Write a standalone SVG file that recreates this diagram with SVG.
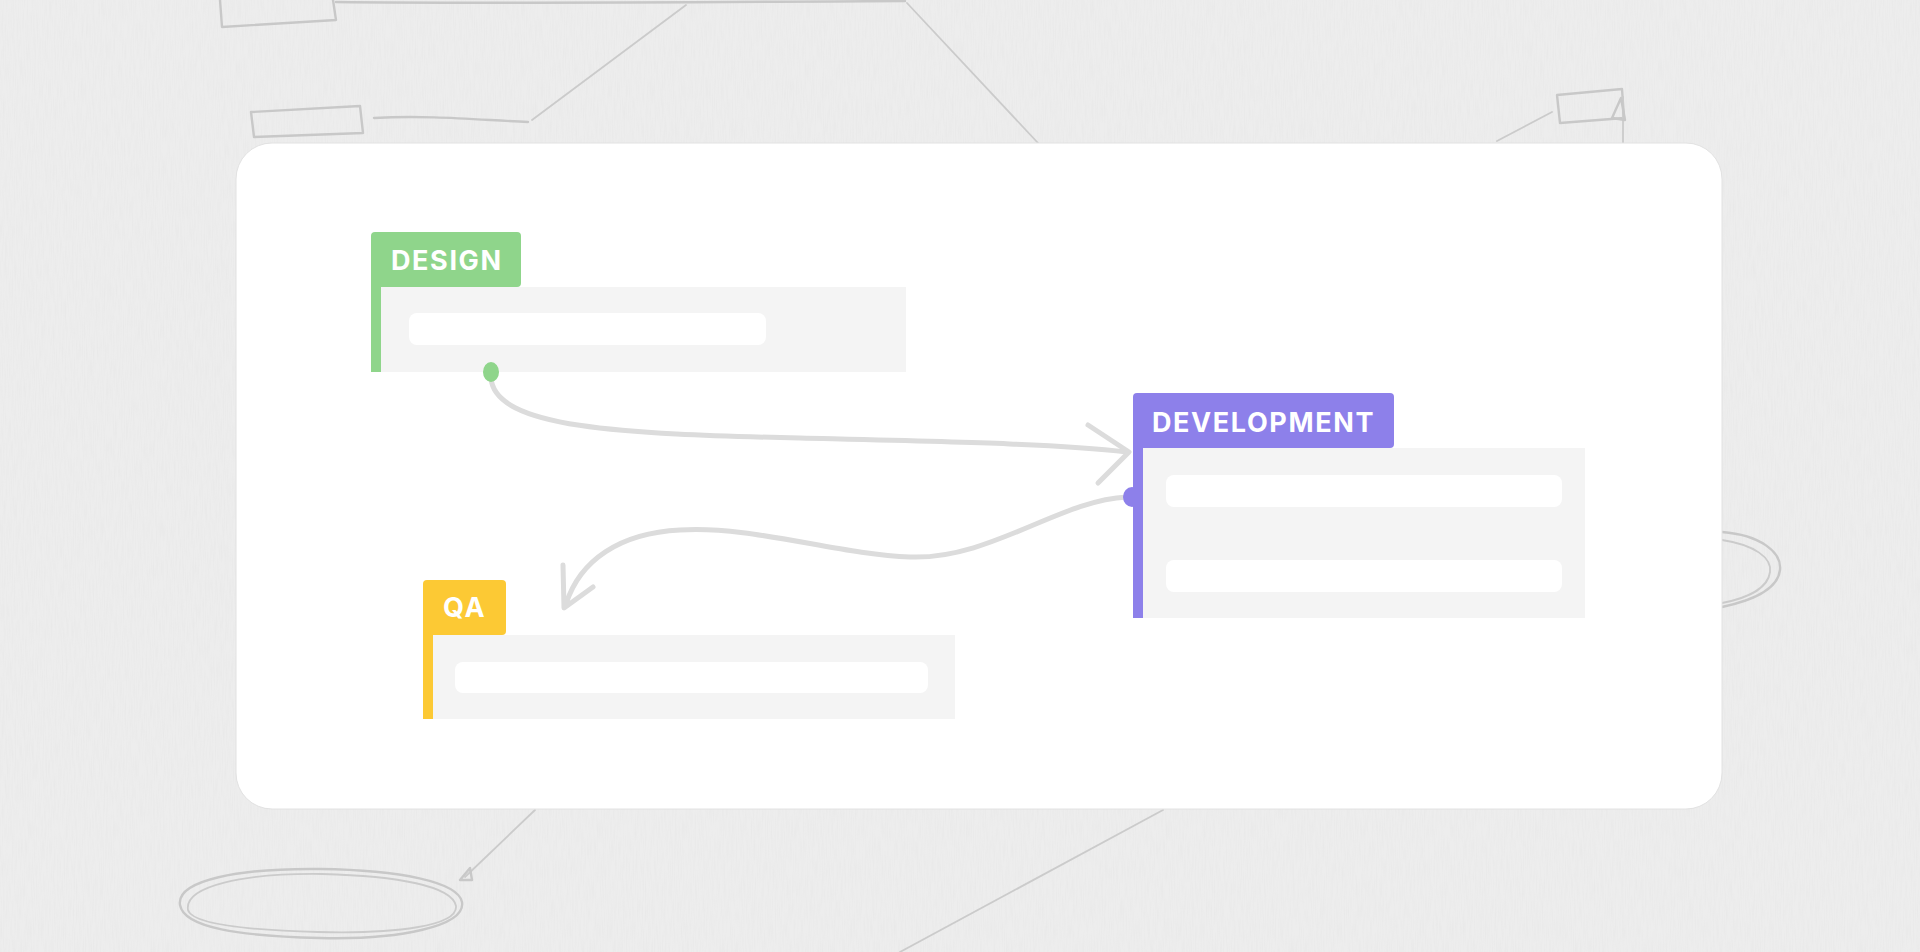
<svg xmlns="http://www.w3.org/2000/svg" width="1920" height="952" viewBox="0 0 1920 952">
  <defs>
    <filter id="paper" x="0" y="0" width="100%" height="100%">
      <feTurbulence type="fractalNoise" baseFrequency="0.9 0.05" numOctaves="2" seed="3" result="n"/>
      <feColorMatrix type="matrix" values="0 0 0 0 0.6  0 0 0 0 0.6  0 0 0 0 0.6  0 0 0 -1.6 1.0" in="n"/>
    </filter>
  </defs>
  <style>
    .sketch { fill: none; stroke: #c8c8c8; stroke-width: 2.4; stroke-linecap: round; stroke-linejoin: round; }
    .sketch-thin { fill: none; stroke: #cbcbcb; stroke-width: 1.8; stroke-linecap: round; }
    .body { fill: #f4f4f4; }
    .field { fill: #ffffff; }
    .label { font-family: Inter, "Liberation Sans", sans-serif; font-weight: 700; font-size: 27px; letter-spacing: 1.6px; fill: #ffffff; }
    .conn { fill: none; stroke: #dcdcdc; stroke-width: 5; stroke-linecap: round; stroke-linejoin: round; }
  </style>

  <!-- background paper -->
  <rect x="0" y="0" width="1920" height="952" fill="#ededed"/>
  <rect x="0" y="0" width="1920" height="952" filter="url(#paper)" opacity="0.14"/>

  <!-- background sketches -->
  <g id="sketches">
    <path class="sketch" d="M220,0 L222,27 L336,20 L333,0"/>
    <path class="sketch" d="M336,2 C500,4 700,2 905,1"/>
    <path class="sketch-thin" d="M686,5 L532,120"/>
    <path class="sketch" d="M374,118 C430,115 480,120 528,122"/>
    <path class="sketch" d="M251,112 L360,106 L363,133 L254,137 Z"/>
    <path class="sketch-thin" d="M907,3 L1038,143"/>
    <path class="sketch" d="M1557,95 L1622,89 L1624,118 L1560,123 Z"/>
    <path class="sketch-thin" d="M1497,141 L1552,112"/>
    <path class="sketch-thin" d="M1623,97 L1623,143"/>
    <path class="sketch" d="M1612,118 L1621,98 L1625,120 Z"/>
    <path class="sketch" d="M1722,532 C1760,535 1782,552 1780,570 C1778,588 1755,600 1722,607"/>
    <path class="sketch-thin" d="M1722,540 C1755,545 1772,558 1770,572 C1768,588 1748,598 1722,603"/>
    <path class="sketch" d="M180,905 C176,880 240,868 320,869 C400,870 458,882 462,902 C466,926 400,940 320,938 C240,936 184,928 180,905"/>
    <path class="sketch-thin" d="M188,910 C184,886 244,873 322,874 C398,876 452,886 456,906 C458,926 396,934 318,932 C244,930 192,924 188,910"/>
    <path class="sketch-thin" d="M535,810 L465,877"/>
    <path class="sketch" d="M460,880 L470,868 L472,880 Z"/>
    <path class="sketch-thin" d="M1163,810 L900,952"/>
  </g>

  <!-- card -->
  <rect id="card" x="236" y="143" width="1486" height="666" rx="36" ry="36" fill="#ffffff" stroke="#e2e2e2" stroke-width="1"/>

  <!-- connectors -->
  <g id="connectors">
    <path class="conn" d="M491,378 C495,428 620,434 800,438 C960,442 1060,444 1127,452"/>
    <path class="conn" d="M1088,425 L1129,452 L1098,483"/>
    <path class="conn" d="M1127,497 C1060,500 990,560 910,557 C840,555 750,525 680,530 C620,533 580,560 566,604"/>
    <path class="conn" d="M563,565 L564,608 L593,587"/>
  </g>

  <!-- DESIGN node -->
  <g id="node-design">
    <rect class="body" x="381" y="287" width="525" height="85"/>
    <rect x="371" y="287" width="10" height="85" fill="#8fd58b"/>
    <path d="M371,287 L371,236 Q371,232 375,232 L517,232 Q521,232 521,236 L521,283 Q521,287 517,287 Z" fill="#8fd58b"/>
    <text class="label" x="391" y="270">DESIGN</text>
    <rect class="field" x="409" y="313" width="357" height="32" rx="8"/>
    <ellipse cx="491" cy="372" rx="8" ry="10" fill="#8fd58b"/>
  </g>

  <!-- DEVELOPMENT node -->
  <g id="node-development">
    <rect class="body" x="1143" y="448" width="442" height="170"/>
    <rect x="1133" y="448" width="10" height="170" fill="#8d80ea"/>
    <path d="M1133,448 L1133,397 Q1133,393 1137,393 L1390,393 Q1394,393 1394,397 L1394,444 Q1394,448 1390,448 Z" fill="#8d80ea"/>
    <text class="label" x="1152" y="432">DEVELOPMENT</text>
    <rect class="field" x="1166" y="475" width="396" height="32" rx="8"/>
    <rect class="field" x="1166" y="560" width="396" height="32" rx="8"/>
    <ellipse cx="1132" cy="497" rx="9" ry="10" fill="#8d80ea"/>
    <rect x="1133" y="480" width="10" height="40" fill="#8d80ea"/>
  </g>

  <!-- QA node -->
  <g id="node-qa">
    <rect class="body" x="433" y="635" width="522" height="84"/>
    <rect x="423" y="635" width="10" height="84" fill="#fcc934"/>
    <path d="M423,635 L423,584 Q423,580 427,580 L502,580 Q506,580 506,584 L506,631 Q506,635 502,635 Z" fill="#fcc934"/>
    <text class="label" x="443" y="617">QA</text>
    <rect class="field" x="455" y="662" width="473" height="31" rx="8"/>
  </g>
</svg>
